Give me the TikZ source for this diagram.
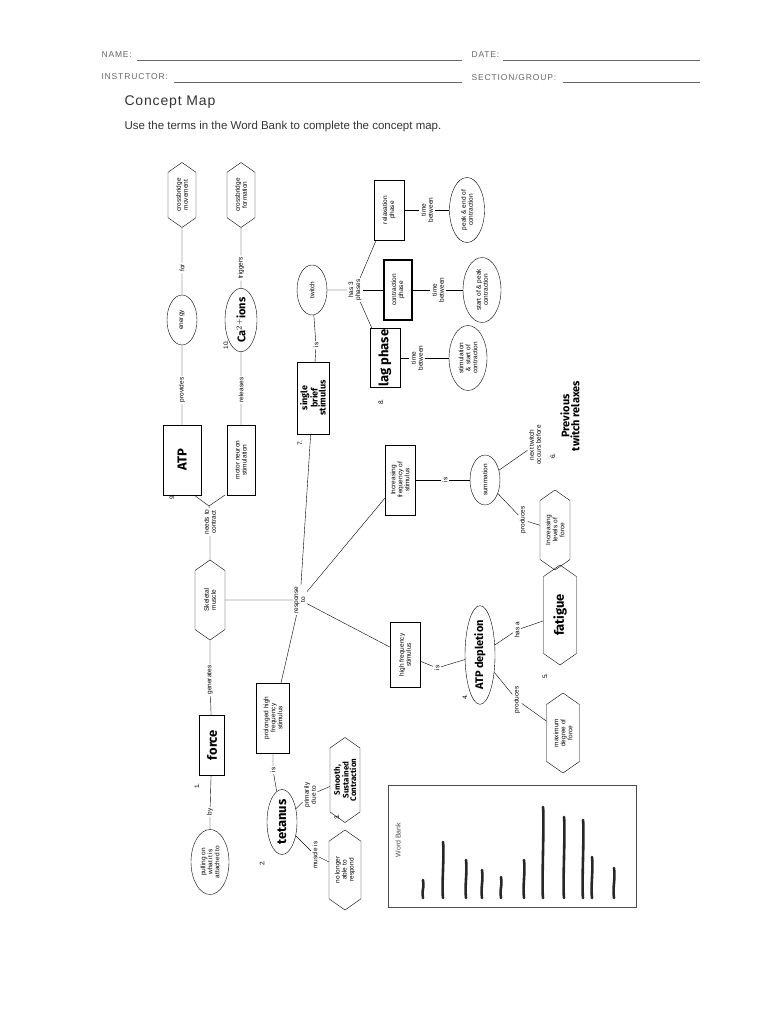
\documentclass[tikz,border=0pt]{standalone}
\usepackage{fontspec}
\setmainfont{Liberation Sans}
\newfontfamily\handfont{Fira Sans}
\usetikzlibrary{shapes.geometric,shapes.symbols}
\tikzset{
  lbl/.style={rotate=90, align=center, inner sep=1.5pt, font=\fontsize{6.5}{7}\selectfont},
  box/.style={draw, rectangle, rotate=90, align=center, inner sep=1pt, font=\fontsize{6.5}{7}\selectfont},
  oval/.style={draw, ellipse, rotate=90, align=center, inner sep=0pt, font=\fontsize{6.5}{7}\selectfont},
  hexa/.style={draw, signal, signal to=east and west, signal pointer angle=110, rotate=90, align=center, inner sep=1pt, font=\fontsize{6.5}{7}\selectfont},
  hand/.style={font=\handfont\bfseries\fontsize{13}{12}\selectfont},
  num/.style={rotate=90, inner sep=0pt, font=\fontsize{6.5}{7}\selectfont},
  head/.style={anchor=west, text=black!60, font=\fontsize{8.5}{9}\selectfont\addfontfeature{LetterSpace=10}},
  scribble/.style={line width=2.6pt, line cap=round, black!85}
}
\begin{document}
\begin{tikzpicture}[x=1pt,y=-1pt]
  \useasboundingbox (0,0) rectangle (768,1024);
  % header
  \node[head] (name) at (98,55) {NAME:};
  \node[head] (date) at (468,55) {DATE:};
  \node[head] (instr) at (98,77) {INSTRUCTOR:};
  \node[head] (sect) at (468,77) {SECTION/GROUP:};
  \draw[black!60] (137,60) -- (462,60);
  \draw[black!60] (503,60) -- (700,60);
  \draw[black!60] (174,82) -- (462,82);
  \draw[black!60] (563,82) -- (700,82);
  \node[anchor=west, text=black!80, font=\fontsize{14}{15}\selectfont\addfontfeature{LetterSpace=6}] (title) at (121,102) {Concept Map};
  \node[anchor=west, text=black!80, font=\fontsize{11.5}{12}\selectfont] (intro) at (121,127) {Use the terms in the Word Bank to complete the concept map.};

  % upper branch
  \node[hexa, minimum width=65, minimum height=28] (cbm) at (182,195) {crossbridge\\movement};
  \node[hexa, minimum width=65, minimum height=28] (cbf) at (241,195) {crossbridge\\formation};
  \node[lbl] (for) at (182,268) {for};
  \node[oval, minimum width=50, minimum height=30] (energy) at (182,320) {energy};
  \node[lbl] (prov) at (182,390) {provides};
  \node[box, hand, minimum width=70, minimum height=38] (atp) at (182,460) {ATP};
  \node[lbl] (trig) at (241,268) {triggers};
  \node[oval, minimum width=50, minimum height=32, font=\handfont\bfseries\fontsize{11}{10}\selectfont] (ca) at (241,320) {Ca$^{2+}$ions};
  \node[lbl] (rel) at (241,390) {releases};
  \node[box, minimum width=70, minimum height=28] (mns) at (241,460) {motor neuron\\stimulation};
  \node[num] (n9) at (172,497) {9.};
  \node[num] (n10) at (226,345) {10.};
  \node[lbl] (needs) at (210,522) {needs to\\contract};
  \coordinate (join) at (209,506);
  \coordinate (atpfoot) at (194,495);
  \coordinate (mnsfoot) at (225,495);
  \draw (cbm) -- (for) -- (energy) -- (prov) -- (atp);
  \draw (cbf) -- (trig) -- (ca) -- (rel) -- (mns);
  \draw (atpfoot) -- (join) -- (mnsfoot);

  % skeletal muscle
  \node[hexa, minimum width=80, minimum height=30] (skm) at (210,600) {Skeletal\\muscle};
  \node[lbl] (gen) at (210,680) {generates};
  \node[box, hand, minimum width=60, minimum height=25] (force) at (212,745) {force};
  \node[num] (n1) at (197,786) {1.};
  \node[lbl] (by) at (210,812) {by};
  \node[oval, minimum width=65, minimum height=38] (pull) at (210,862) {pulling on\\what it is\\attached to};
  \draw (join) -- (needs) -- (skm) -- (gen) -- (force) -- (by) -- (pull);
  \node[lbl] (resp) at (300,600) {response\\to};
  \draw (skm) -- (resp);

  % twitch branch
  \node[box, hand, minimum width=72, minimum height=32, font=\handfont\bfseries\fontsize{9}{8}\selectfont] (sbs) at (313,398) {single\\brief\\stimulus};
  \node[num] (n7) at (300,443) {7.};
  \node[lbl] (is1) at (316,345) {is};
  \node[oval, minimum width=50, minimum height=30] (twitch) at (312,290) {twitch};
  \node[lbl] (has3) at (355,290) {has 3\\phases};
  \node[box, minimum width=60, minimum height=30] (relax) at (389,210) {relaxation\\phase};
  \node[box, very thick, minimum width=60, minimum height=28] (contr) at (398,290) {contraction\\phase};
  \node[box, hand, minimum width=50, minimum height=30] (lag) at (385,358) {lag phase};
  \node[num] (n8) at (381,402) {8.};
  \node[lbl] (tb1) at (427,210) {time\\between};
  \node[lbl] (tb2) at (438,290) {time\\between};
  \node[lbl] (tb3) at (417,358) {time\\between};
  \node[oval, minimum width=65, minimum height=35] (peak) at (467,210) {peak \& end of\\contraction};
  \node[oval, minimum width=65, minimum height=38] (start) at (482,290) {start of \& peak\\contraction};
  \node[oval, minimum width=65, minimum height=38] (stim) at (468,358) {stimulation\\\& start of\\contraction};
  \draw (resp) -- (sbs) -- (is1) -- (twitch) -- (has3);
  \draw (has3) -- (relax);
  \draw (has3) -- (contr);
  \draw (has3) -- (lag);
  \draw (relax) -- (tb1) -- (peak);
  \draw (contr) -- (tb2) -- (start);
  \draw (lag) -- (tb3) -- (stim);

  % summation branch
  \node[box, minimum width=70, minimum height=30] (incf) at (400,480) {Increasing\\frequency of\\stimulus};
  \node[lbl] (is2) at (445,480) {is};
  \node[oval, minimum width=50, minimum height=30] (summ) at (485,480) {summation};
  \node[lbl] (next) at (535,445) {next twitch\\occurs before};
  \node[rotate=90, align=center, font=\handfont\bfseries\fontsize{11}{10}\selectfont] (prev) at (570,416) {Previous\\twitch relaxes};
  \node[num] (n6) at (553,456) {6.};
  \node[lbl] (prod1) at (523,520) {produces};
  \node[hexa, minimum width=80, minimum height=30] (incl) at (555,530) {Increasing\\levels of\\force};
  \draw (resp) -- (incf);
  \draw (incf) -- (is2) -- (summ);
  \draw (summ) -- (next);
  \draw (summ) -- (prod1) -- (incl);

  % fatigue branch
  \node[box, minimum width=65, minimum height=30] (hfs) at (405,655) {high frequency\\stimulus};
  \node[lbl] (is3) at (437,668) {is};
  \node[oval, minimum width=90, minimum height=30, font=\handfont\bfseries\fontsize{11}{10}\selectfont] (atpd) at (480,655) {ATP depletion};
  \node[num] (n4) at (465,697) {4.};
  \node[lbl] (hasa) at (517,630) {has a};
  \node[hexa, hand, minimum width=100, minimum height=33] (fat) at (560,615) {fatigue};
  \node[num] (n5) at (545,676) {5.};
  \node[lbl] (prod2) at (517,700) {produces};
  \node[hexa, minimum width=80, minimum height=33] (maxf) at (563,733) {maximum\\degree of\\force};
  \draw (resp) -- (hfs);
  \draw (hfs) -- (is3) -- (atpd);
  \draw (atpd) -- (hasa) -- (fat);
  \draw (atpd) -- (prod2) -- (maxf);

  % tetanus branch
  \node[box, minimum width=70, minimum height=33] (phfs) at (273,718) {prolonged high\\frequency\\stimulus};
  \node[lbl] (is4) at (273,770) {is};
  \node[oval, hand, minimum width=65, minimum height=30] (tet) at (282,822) {tetanus};
  \node[num] (n2) at (262,863) {2.};
  \node[lbl] (prim) at (310,795) {primarily\\due to};
  \node[hexa, minimum width=85, minimum height=30, font=\handfont\bfseries\fontsize{8}{7.5}\selectfont] (smooth) at (345,780) {Smooth,\\Sustained\\Contraction};
  \node[num] (n3) at (337,817) {3.};
  \node[lbl] (muscle) at (315,855) {muscle is};
  \node[hexa, minimum width=80, minimum height=32] (nolong) at (345,870) {no longer\\able to\\respond};
  \draw (resp) -- (phfs);
  \draw (phfs) -- (is4) -- (tet);
  \draw (tet) -- (prim) -- (smooth);
  \draw (tet) -- (muscle) -- (nolong);

  % word bank
  \node[draw, black!70, minimum width=248, minimum height=122] (bank) at (512,846) {};
  \node[lbl, text=black!70, font=\fontsize{7}{8}\selectfont] (wbt) at (398,840) {Word Bank};
  \foreach \x/\y in {423/880, 443/842, 466/860, 482/870, 501/877, 524/860, 543/807, 564/817, 583/820, 592/857, 614/868}{
    \draw[scribble] (\x,\y) .. controls (\x+1.5,\y+12) and (\x-1.5,898-12) .. (\x,898);
  }
\end{tikzpicture}
\end{document}
